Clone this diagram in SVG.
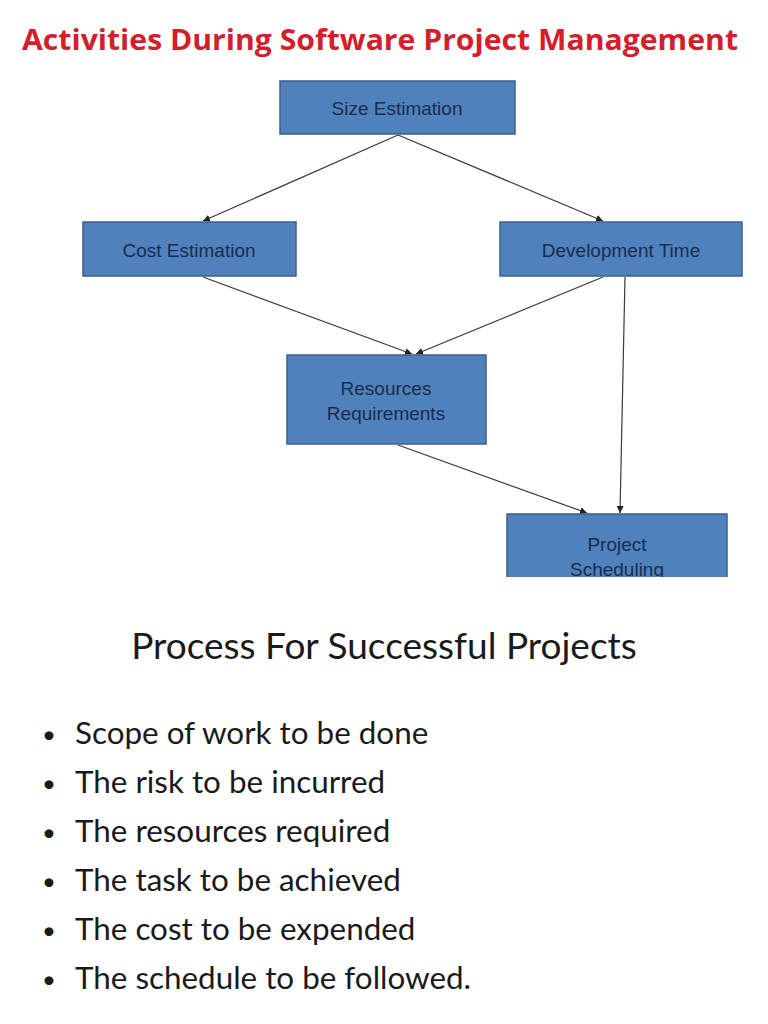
<svg xmlns="http://www.w3.org/2000/svg" width="768" height="1024" viewBox="0 0 768 1024">
<style>
.box{fill:#4f81bd;stroke:#3b5f8c;stroke-width:1.5}
.lbl{font-family:"Liberation Sans",Arial,sans-serif;font-size:19px;fill:#1c2b4c;text-anchor:middle}
.con{stroke:#3a3a3a;stroke-width:1.2;fill:none;marker-end:url(#ah)}
.title{font-family:"Open Sans","Noto Sans",sans-serif;font-weight:bold;font-size:29px;fill:#d31f2b}
.h2{font-family:Lato,"Open Sans",sans-serif;font-size:37px;fill:#1a1a1a;text-anchor:middle}
.bul{font-family:Lato,"Open Sans",sans-serif;font-size:31.4px;fill:#1a1a1a}
.dot{font-family:Lato,"Open Sans",sans-serif;font-size:24px;fill:#1a1a1a}
</style>
<defs>
<marker id="ah" viewBox="0 0 10 10" refX="10" refY="5" markerWidth="7" markerHeight="7" orient="auto" markerUnits="userSpaceOnUse">
<path d="M0,0 L10,5 L0,10 z" fill="#222"/>
</marker>
</defs>
<rect width="768" height="1024" fill="#ffffff"/>
<text class="title" x="22" y="50" textLength="716" lengthAdjust="spacingAndGlyphs">Activities During Software Project Management</text>
<g id="connectors">
<line class="con" x1="398" y1="135" x2="203" y2="221"/>
<line class="con" x1="398" y1="135" x2="603" y2="221"/>
<line class="con" x1="203" y1="277" x2="412" y2="354"/>
<line class="con" x1="603" y1="277" x2="416" y2="354"/>
<line class="con" x1="625" y1="277" x2="620" y2="513"/>
<line class="con" x1="398" y1="445" x2="587" y2="513"/>
</g>
<g id="size-estimation">
<rect class="box" x="280" y="81" width="235" height="53"/>
<text class="lbl" x="397" y="115">Size Estimation</text>
</g>
<g id="cost-estimation">
<rect class="box" x="83" y="222" width="213" height="54"/>
<text class="lbl" x="189" y="257">Cost Estimation</text>
</g>
<g id="development-time">
<rect class="box" x="500" y="222" width="242" height="54"/>
<text class="lbl" x="621" y="257">Development Time</text>
</g>
<g id="resources-requirements">
<rect class="box" x="287" y="355" width="199" height="89"/>
<text class="lbl" x="386" y="395">Resources</text>
<text class="lbl" x="386" y="420">Requirements</text>
</g>
<g id="project-scheduling">
<rect class="box" x="507" y="514" width="220" height="70"/>
<text class="lbl" x="617" y="551">Project</text>
<text class="lbl" x="617" y="576">Scheduling</text>
</g>
<rect x="0" y="577" width="768" height="20" fill="#ffffff"/>
<text class="h2" x="384" y="659">Process For Successful Projects</text>
<g>
<text class="dot" x="42" y="743">•</text><text class="bul" x="75" y="744">Scope of work to be done</text>
<text class="dot" x="42" y="792">•</text><text class="bul" x="75" y="793">The risk to be incurred</text>
<text class="dot" x="42" y="841">•</text><text class="bul" x="75" y="842">The resources required</text>
<text class="dot" x="42" y="890">•</text><text class="bul" x="75" y="891">The task to be achieved</text>
<text class="dot" x="42" y="939">•</text><text class="bul" x="75" y="940">The cost to be expended</text>
<text class="dot" x="42" y="988">•</text><text class="bul" x="75" y="989">The schedule to be followed.</text>
</g>
</svg>
